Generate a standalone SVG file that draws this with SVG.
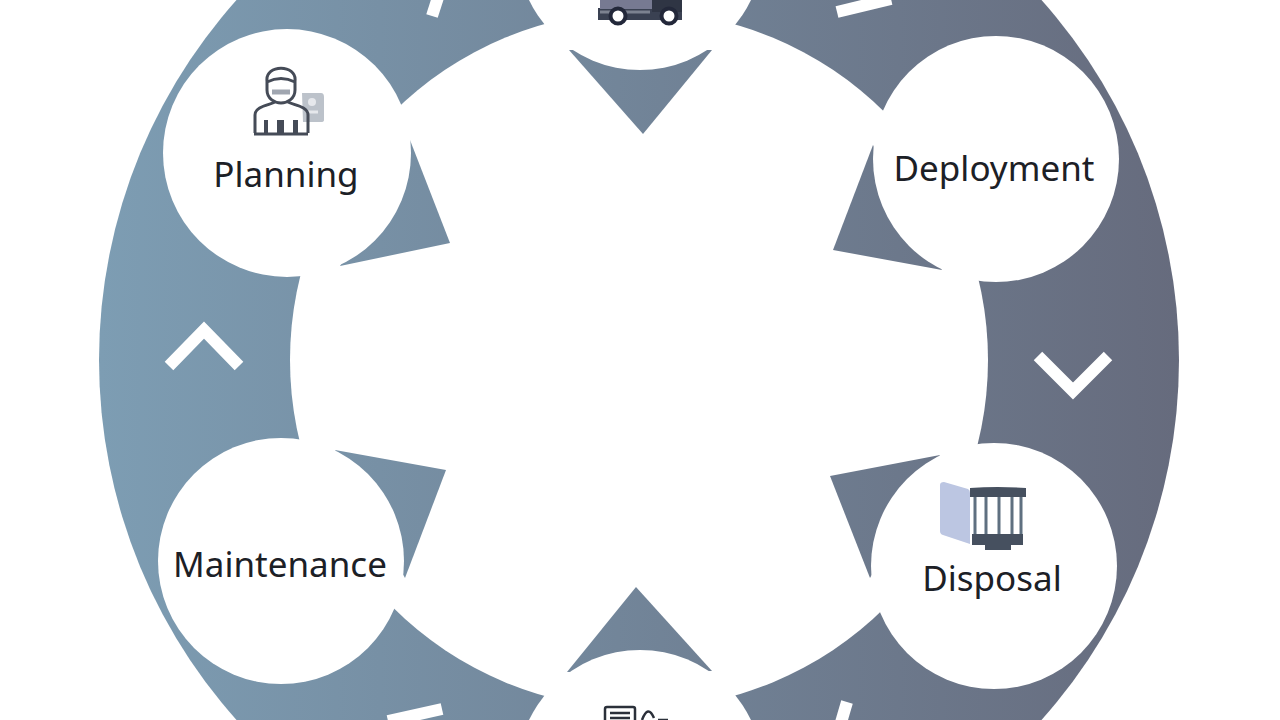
<svg xmlns="http://www.w3.org/2000/svg" width="1280" height="720" viewBox="0 0 1280 720">
<style>
.n{fill:#fff}
.t{font-family:"Noto Sans",sans-serif;font-size:35px;fill:#1c2026;text-anchor:middle}
.c{fill:none;stroke:#fff;stroke-width:12}
.i{fill:none;stroke:#454b57;stroke-width:3}
</style>
<defs>
<linearGradient id="g" gradientUnits="userSpaceOnUse" x1="99" y1="0" x2="1179" y2="0">
<stop offset="0" stop-color="#7d9db3"/><stop offset="1" stop-color="#666b7d"/>
</linearGradient>
</defs>
<rect width="1280" height="720" fill="#fff"/>
<circle cx="639" cy="360" r="540" fill="url(#g)"/>
<circle cx="639" cy="360" r="349" fill="#fff"/>
<g id="connectors" fill="url(#g)">
<polygon points="569,50 712,50 643,134"/>
<polygon points="410,140 450,243 340,266"/>
<polygon points="873,145 833,250 942,270"/>
<polygon points="940,455 830,476 870,578"/>
<polygon points="335,450 446,470 405,578"/>
<polygon points="636,587 712,671 567,672"/>
<path class="c" d="M169 366L204 330L239 366"/>
<path class="c" d="M1038 356L1073 391L1108 356"/>
<path class="c" d="M441 -12L432 16"/>
<path class="c" d="M837 12L891 -1"/>
<path class="c" d="M388 721L442 709"/>
<path class="c" d="M847 702L840 726"/>
</g>
<g id="node-top"><circle class="n" cx="640" cy="-53" r="123"/>
<path d="M598 8H682V20H598Z" fill="#3a4152"/><path d="M600 0H652V9H600Z" fill="#777a92"/><path d="M652 0H682V12H652Z" fill="#2f3544"/><path d="M600 12H650" stroke="#7c8290" stroke-width="3"/>
<circle cx="618" cy="16" r="7.5" fill="#fff" stroke="#23283a" stroke-width="4"/><circle cx="669" cy="16" r="7.5" fill="#fff" stroke="#23283a" stroke-width="4"/></g>
<g id="node-planning"><circle class="n" cx="287" cy="153" r="124"/>
<path d="M302 93H321Q324 93 324 97V120Q324 122 321 122H303Z" fill="#bcc2ca"/><circle cx="312" cy="102" r="4" fill="#e6e8ec"/><path d="M306 112H318" stroke="#e6e8ec" stroke-width="3"/>
<path class="i" d="M267 81C265 64 297 64 295 81V90C295 99 287 103 281 103C275 103 267 99 267 90ZM267 82Q281 75 295 82M255 133V115C255 106 270 105 275 102M308 133V115C308 106 293 105 288 102M254 134H308"/>
<path d="M264 120H268V133H264ZM277 120H284V133H277ZM293 120H298V133H293Z" fill="#454b57"/>
<path d="M272 92H290" stroke="#a0a6b0" stroke-width="5"/>
<text class="t" x="286" y="187">Planning</text></g>
<g id="node-deployment"><circle class="n" cx="996" cy="159" r="123"/><text class="t" x="994" y="181">Deployment</text></g>
<g id="node-disposal"><circle class="n" cx="994" cy="566" r="123"/>
<path d="M944 482L968 489Q970 490 970 493V544L943 535Q940 534 940 531V485Q940 482 944 482Z" fill="#bcc6e2"/>
<path d="M970 488Q997 486 1026 488V497H970ZM972 534H1023V545H972ZM985 545H1011V550H985Z" fill="#46505f"/>
<path d="M975 497V534M986 497V534M999 497V534M1012 497V534M1021 497V534" stroke="#5f7080" stroke-width="3" fill="none"/>
<text class="t" x="992" y="591">Disposal</text></g>
<g id="node-maintenance"><circle class="n" cx="281" cy="561" r="123"/><text class="t" x="280" y="577">Maintenance</text></g>
<g id="node-bottom"><circle class="n" cx="640" cy="773" r="123"/>
<path d="M605 722V709Q605 707 607 707H633Q635 707 635 709V722M610 713H630M610 718H630M642 720Q648 704 654 718M658 720H668" fill="none" stroke="#2b303a" stroke-width="2.5"/></g>
</svg>
